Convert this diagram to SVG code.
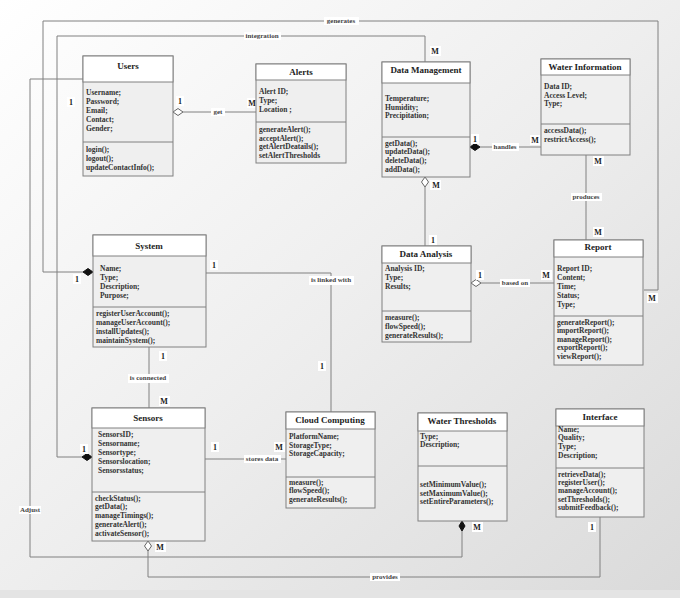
<svg xmlns="http://www.w3.org/2000/svg" width="680" height="598" viewBox="0 0 680 598">
<defs>
<linearGradient id="bg" x1="0" y1="0" x2="1" y2="1">
<stop offset="0" stop-color="#ffffff"/>
<stop offset="0.5" stop-color="#eeeeee"/>
<stop offset="1" stop-color="#dadada"/>
</linearGradient>
<style>
.box{fill:#efefef;stroke:#808080;stroke-width:1}
.hdr{fill:#ffffff;stroke:#808080;stroke-width:1}
.t{font-family:"Liberation Serif",serif;font-size:9px;font-weight:bold;fill:#222;text-anchor:middle}
.m{font-family:"Liberation Serif",serif;font-size:7.5px;font-weight:bold;fill:#333}
.ln{fill:none;stroke:#808080;stroke-width:1}
.lb{font-family:"Liberation Serif",serif;font-size:7px;font-weight:bold;fill:#444;text-anchor:middle}
.mu{font-family:"Liberation Serif",serif;font-size:8px;font-weight:bold;fill:#222;text-anchor:middle}
.wb{fill:#ffffff}
.fd{fill:#111;stroke:#111}
.hd{fill:#ffffff;stroke:#666}
</style>
</defs>
<rect width="680" height="598" fill="url(#bg)"/>
<rect y="590" width="680" height="8" fill="#e4e4e4"/>

<g id="connectors">
<polyline class="ln" points="43,272 43,21 658,21 658,290 644,290"/>
<polyline class="ln" points="83,272 43,272"/>
<polyline class="ln" points="57,457 57,36 425,36 425,62"/>
<polyline class="ln" points="82,457 57,457"/>
<polyline class="ln" points="83,79 30,79 30,557 462,557 462,531"/>
<polyline class="ln" points="183,112 256,112"/>
<polyline class="ln" points="480,147 541,147"/>
<polyline class="ln" points="425,187 425,246"/>
<polyline class="ln" points="586,155 586,240"/>
<polyline class="ln" points="481,283 554,283"/>
<polyline class="ln" points="206,273 331,273 331,412"/>
<polyline class="ln" points="149,347 149,408"/>
<polyline class="ln" points="205,459 286,459"/>
<polyline class="ln" points="148,551 148,577 600,577 600,517"/>
<polygon class="hd" points="173,112 178,108.5 183,112 178,115.5"/>
<polygon class="fd" points="470,147 475,143.5 480,147 475,150.5"/>
<polygon class="hd" points="425,177 428.5,182 425,187 421.5,182"/>
<polygon class="fd" points="93,272 88,268.5 83,272 88,275.5"/>
<polygon class="fd" points="92,457 87,453.5 82,457 87,460.5"/>
<polygon class="hd" points="471,283 476,279.5 481,283 476,286.5"/>
<polygon class="hd" points="148,541 151.5,546 148,551 144.5,546"/>
<polygon class="fd" points="462,521 465,526 462,531 459,526"/>
<g>
<rect class="wb" x="324" y="17" width="35" height="8"/><text class="lb" x="341" y="23">generates</text>
<rect class="wb" x="244" y="32" width="37" height="8"/><text class="lb" x="262" y="38">integration</text>
<rect class="wb" x="211" y="108" width="14" height="8"/><text class="lb" x="218" y="114">get</text>
<rect class="wb" x="492" y="143" width="27" height="8"/><text class="lb" x="505" y="149">handles</text>
<rect class="wb" x="571" y="193" width="31" height="8"/><text class="lb" x="586" y="199">produces</text>
<rect class="wb" x="500" y="279" width="30" height="8"/><text class="lb" x="515" y="285">based on</text>
<rect class="wb" x="309" y="276" width="45" height="9"/><text class="lb" x="331" y="282">is linked with</text>
<rect class="wb" x="128" y="374" width="41" height="9"/><text class="lb" x="148" y="380">is connected</text>
<rect class="wb" x="244" y="455" width="37" height="8"/><text class="lb" x="262" y="461">stores data</text>
<rect class="wb" x="19" y="506" width="22" height="8"/><text class="lb" x="30" y="512">Adjust</text>
<rect class="wb" x="370" y="573" width="30" height="8"/><text class="lb" x="385" y="579">provides</text>
</g>
<g>
<rect class="wb" x="176" y="96" width="8" height="10"/><text class="mu" x="180" y="104">1</text>
<rect class="wb" x="247" y="98" width="10" height="10"/><text class="mu" x="252" y="106">M</text>
<rect class="wb" x="430" y="46" width="11" height="10"/><text class="mu" x="435" y="54">M</text>
<rect class="wb" x="471" y="134" width="8" height="10"/><text class="mu" x="475" y="142">1</text>
<rect class="wb" x="530" y="135" width="10" height="10"/><text class="mu" x="535" y="143">M</text>
<rect class="wb" x="430" y="180" width="11" height="10"/><text class="mu" x="436" y="188">M</text>
<rect class="wb" x="429" y="235" width="8" height="10"/><text class="mu" x="433" y="243">1</text>
<rect class="wb" x="593" y="156" width="11" height="10"/><text class="mu" x="598" y="164">M</text>
<rect class="wb" x="593" y="227" width="11" height="10"/><text class="mu" x="598" y="235">M</text>
<rect class="wb" x="476" y="270" width="8" height="10"/><text class="mu" x="480" y="278">1</text>
<rect class="wb" x="541" y="270" width="11" height="10"/><text class="mu" x="546" y="278">M</text>
<rect class="wb" x="647" y="293" width="11" height="10"/><text class="mu" x="652" y="301">M</text>
<rect class="wb" x="67" y="97" width="8" height="10"/><text class="mu" x="71" y="105">1</text>
<rect class="wb" x="73" y="274" width="8" height="10"/><text class="mu" x="77" y="282">1</text>
<rect class="wb" x="210" y="260" width="8" height="10"/><text class="mu" x="214" y="268">1</text>
<rect class="wb" x="318" y="361" width="8" height="10"/><text class="mu" x="322" y="369">1</text>
<rect class="wb" x="159" y="351" width="8" height="10"/><text class="mu" x="163" y="359">1</text>
<rect class="wb" x="159" y="396" width="11" height="10"/><text class="mu" x="164" y="404">M</text>
<rect class="wb" x="80" y="444" width="8" height="10"/><text class="mu" x="84" y="452">1</text>
<rect class="wb" x="211" y="442" width="8" height="10"/><text class="mu" x="215" y="450">1</text>
<rect class="wb" x="274" y="442" width="11" height="10"/><text class="mu" x="279" y="450">M</text>
<rect class="wb" x="155" y="542" width="11" height="10"/><text class="mu" x="160" y="550">M</text>
<rect class="wb" x="472" y="522" width="11" height="10"/><text class="mu" x="477" y="530">M</text>
<rect class="wb" x="588" y="522" width="8" height="10"/><text class="mu" x="592" y="530">1</text>
</g>
</g>

<g id="users">
<rect class="box" x="83" y="56" width="90" height="120"/>
<rect class="hdr" x="83" y="56" width="90" height="26"/>
<line class="ln" x1="83" y1="142" x2="173" y2="142"/>
<text class="t" x="128" y="69">Users</text>
<text class="m" x="86" y="95">Username;</text>
<text class="m" x="86" y="104">Password;</text>
<text class="m" x="86" y="113">Email;</text>
<text class="m" x="86" y="122">Contact;</text>
<text class="m" x="86" y="131">Gender;</text>
<text class="m" x="86" y="152">login();</text>
<text class="m" x="86" y="161">logout();</text>
<text class="m" x="86" y="170">updateContactInfo();</text>
</g>

<g id="alerts">
<rect class="box" x="256" y="64" width="90" height="99"/>
<rect class="hdr" x="256" y="64" width="90" height="16"/>
<line class="ln" x1="256" y1="122" x2="346" y2="122"/>
<text class="t" x="301" y="75">Alerts</text>
<text class="m" x="259" y="94">Alert ID;</text>
<text class="m" x="259" y="103">Type;</text>
<text class="m" x="259" y="112">Location ;</text>
<text class="m" x="259" y="132">generateAlert();</text>
<text class="m" x="259" y="141">acceptAlert();</text>
<text class="m" x="259" y="149">getAlertDeatails();</text>
<text class="m" x="259" y="158">setAlertThresholds</text>
</g>

<g id="data-management">
<rect class="box" x="382" y="62" width="88" height="115"/>
<rect class="hdr" x="382" y="62" width="88" height="21"/>
<line class="ln" x1="382" y1="137" x2="470" y2="137"/>
<text class="t" x="426" y="73">Data Management</text>
<text class="m" x="385" y="101">Temperature;</text>
<text class="m" x="385" y="110">Humidity;</text>
<text class="m" x="385" y="118">Precipitation;</text>
<text class="m" x="385" y="146">getData();</text>
<text class="m" x="385" y="154">updateData();</text>
<text class="m" x="385" y="163">deleteData();</text>
<text class="m" x="385" y="172">addData();</text>
</g>

<g id="water-information">
<rect class="box" x="541" y="59" width="89" height="96"/>
<rect class="hdr" x="541" y="59" width="89" height="16"/>
<line class="ln" x1="541" y1="124" x2="630" y2="124"/>
<text class="t" x="585" y="70">Water Information</text>
<text class="m" x="544" y="89">Data ID;</text>
<text class="m" x="544" y="98">Access Level;</text>
<text class="m" x="544" y="106">Type;</text>
<text class="m" x="544" y="133">accessData();</text>
<text class="m" x="544" y="142">restrictAccess();</text>
</g>

<g id="system">
<rect class="box" x="93" y="235" width="113" height="112"/>
<rect class="hdr" x="93" y="235" width="113" height="21"/>
<line class="ln" x1="93" y1="307" x2="206" y2="307"/>
<text class="t" x="149" y="249">System</text>
<text class="m" x="100" y="271">Name;</text>
<text class="m" x="100" y="280">Type;</text>
<text class="m" x="100" y="289">Description;</text>
<text class="m" x="100" y="298">Purpose;</text>
<text class="m" x="96" y="316">registerUserAccount();</text>
<text class="m" x="96" y="325">manageUserAccount();</text>
<text class="m" x="96" y="334">installUpdates();</text>
<text class="m" x="96" y="343">maintainSystem();</text>
</g>

<g id="data-analysis">
<rect class="box" x="382" y="246" width="89" height="96"/>
<rect class="hdr" x="382" y="246" width="89" height="17"/>
<line class="ln" x1="382" y1="311" x2="471" y2="311"/>
<text class="t" x="426" y="257">Data Analysis</text>
<text class="m" x="385" y="271">Analysis ID;</text>
<text class="m" x="385" y="280">Type;</text>
<text class="m" x="385" y="289">Results;</text>
<text class="m" x="385" y="320">measure();</text>
<text class="m" x="385" y="329">flowSpeed();</text>
<text class="m" x="385" y="338">generateResults();</text>
</g>

<g id="report">
<rect class="box" x="554" y="240" width="89" height="125"/>
<rect class="hdr" x="554" y="240" width="89" height="17"/>
<line class="ln" x1="554" y1="316" x2="643" y2="316"/>
<text class="t" x="598" y="250">Report</text>
<text class="m" x="557" y="271">Report ID;</text>
<text class="m" x="557" y="280">Content;</text>
<text class="m" x="557" y="289">Time;</text>
<text class="m" x="557" y="298">Status;</text>
<text class="m" x="557" y="307">Type;</text>
<text class="m" x="557" y="325">generateReport();</text>
<text class="m" x="557" y="333">importReport();</text>
<text class="m" x="557" y="342">manageReport();</text>
<text class="m" x="557" y="350">exportReport();</text>
<text class="m" x="557" y="359">viewReport();</text>
</g>

<g id="sensors">
<rect class="box" x="92" y="408" width="113" height="133"/>
<rect class="hdr" x="92" y="408" width="113" height="20"/>
<line class="ln" x1="92" y1="492" x2="205" y2="492"/>
<text class="t" x="148" y="421">Sensors</text>
<text class="m" x="98" y="437">SensorsID;</text>
<text class="m" x="98" y="446">Sensorname;</text>
<text class="m" x="98" y="455">Sensortype;</text>
<text class="m" x="98" y="464">Sensorslocation;</text>
<text class="m" x="98" y="473">Sensorsstatus;</text>
<text class="m" x="95" y="501">checkStatus();</text>
<text class="m" x="95" y="509">getData();</text>
<text class="m" x="95" y="518">manageTimings();</text>
<text class="m" x="95" y="527">generateAlert();</text>
<text class="m" x="95" y="536">activateSensor();</text>
</g>

<g id="cloud-computing">
<rect class="box" x="286" y="412" width="89" height="96"/>
<rect class="hdr" x="286" y="412" width="89" height="17"/>
<line class="ln" x1="286" y1="477" x2="375" y2="477"/>
<text class="t" x="330" y="423">Cloud Computing</text>
<text class="m" x="289" y="439">PlatformName;</text>
<text class="m" x="289" y="448">StorageType;</text>
<text class="m" x="289" y="456">StorageCapacity;</text>
<text class="m" x="289" y="485">measure();</text>
<text class="m" x="289" y="493">flowSpeed();</text>
<text class="m" x="289" y="502">generateResults();</text>
</g>

<g id="water-thresholds">
<rect class="box" x="418" y="413" width="89" height="108"/>
<rect class="hdr" x="418" y="413" width="89" height="18"/>
<line class="ln" x1="418" y1="466" x2="507" y2="466"/>
<text class="t" x="462" y="424">Water Thresholds</text>
<text class="m" x="420" y="439">Type;</text>
<text class="m" x="420" y="447">Description;</text>
<text class="m" x="420" y="487">setMinimumValue();</text>
<text class="m" x="420" y="496">setMaximumValue();</text>
<text class="m" x="420" y="504">setEntireParameters();</text>
</g>

<g id="interface">
<rect class="box" x="556" y="409" width="88" height="108"/>
<rect class="hdr" x="556" y="409" width="88" height="17"/>
<line class="ln" x1="556" y1="468" x2="644" y2="468"/>
<text class="t" x="600" y="420">Interface</text>
<text class="m" x="558" y="432">Name;</text>
<text class="m" x="558" y="440">Quality;</text>
<text class="m" x="558" y="449">Type;</text>
<text class="m" x="558" y="458">Description;</text>
<text class="m" x="558" y="477">retrieveData();</text>
<text class="m" x="558" y="485">registerUser();</text>
<text class="m" x="558" y="493">manageAccount();</text>
<text class="m" x="558" y="502">setThresholds();</text>
<text class="m" x="558" y="510">submitFeedback();</text>
</g>
</svg>
